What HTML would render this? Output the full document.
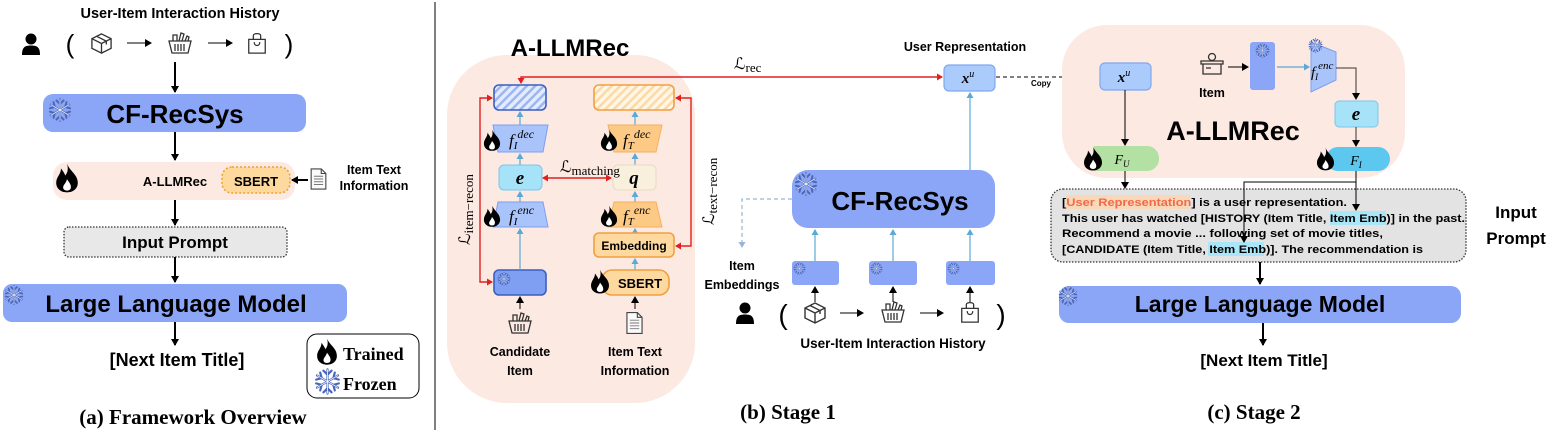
<!DOCTYPE html>
<html><head><meta charset="utf-8"><style>
html,body{margin:0;padding:0;background:#fff;}
svg{display:block;}
.s{font-family:"Liberation Sans",sans-serif;font-weight:bold;}
.m{font-family:"Liberation Serif",serif;}
</style></head><body>
<svg width="1554" height="433" viewBox="0 0 1554 433" xmlns="http://www.w3.org/2000/svg">
<defs>
<marker id="ak" markerWidth="8" markerHeight="8" refX="6" refY="4" orient="auto" markerUnits="userSpaceOnUse"><path d="M0,0 L7,4 L0,8 Z" fill="#000"/></marker>
<marker id="ab" markerWidth="7" markerHeight="7" refX="5" refY="3.5" orient="auto" markerUnits="userSpaceOnUse"><path d="M0,0 L6,3.5 L0,7 Z" fill="#5aa9d6"/></marker>
<marker id="ar" markerWidth="7" markerHeight="7" refX="5" refY="3.5" orient="auto" markerUnits="userSpaceOnUse"><path d="M0,0 L6,3.5 L0,7 Z" fill="#e02020"/></marker>
<marker id="ars" markerWidth="7" markerHeight="7" refX="1" refY="3.5" orient="auto" markerUnits="userSpaceOnUse"><path d="M6,0 L0,3.5 L6,7 Z" fill="#e02020"/></marker>
<marker id="ag" markerWidth="7" markerHeight="7" refX="5" refY="3.5" orient="auto" markerUnits="userSpaceOnUse"><path d="M0,0 L6,3.5 L0,7 Z" fill="#9ab4d8"/></marker>
<symbol id="fire" viewBox="0 0 20 24"><path d="M10 0 C12 6 19 9 19 16 C19 21 15 24 10 24 C5 24 1 21 1 16 C1 11 5 9 5 4 C7 7 8 8 8.5 10 C11 7 11 4 10 0 Z" fill="#000"/><path d="M10 13 C12 16 14 18 13 21 C12 23 8 23 7 21 C6 18 9 17 10 13 Z" fill="#fff"/></symbol>
<symbol id="snow" viewBox="-10 -10 20 20"><g stroke="#4a66b8" stroke-width="1.6" fill="none" stroke-linecap="round"><path d="M0-9V9M-7.8-4.5L7.8 4.5M-7.8 4.5L7.8-4.5"/><path d="M-3-8L0-5L3-8M-3 8L0 5L3 8M-8.4-1.4L-4.3-2.5L-5.4-6.6M8.4 1.4L4.3 2.5L5.4 6.6M-8.4 1.4L-4.3 2.5L-5.4 6.6M8.4-1.4L4.3-2.5L5.4-6.6"/></g><g stroke="#fff" stroke-width="0.6" fill="none"><path d="M0-9V9M-7.8-4.5L7.8 4.5M-7.8 4.5L7.8-4.5"/></g></symbol>
<symbol id="person" viewBox="0 0 20 22"><circle cx="10" cy="6" r="5.5" fill="#000"/><path d="M1 22 C1 14 4 12.5 10 12.5 C16 12.5 19 14 19 22 Z" fill="#000"/></symbol>
<symbol id="box" viewBox="0 0 24 24"><g fill="none" stroke="#333" stroke-width="1.4"><path d="M12 2 L22 7 L22 17 L12 22 L2 17 L2 7 Z"/><path d="M2 7 L12 12 L22 7 M12 12 V22 M7 4.5 L17 9.5 V13"/></g></symbol>
<symbol id="basket" viewBox="0 0 24 24"><g fill="none" stroke="#333" stroke-width="1.3"><path d="M1 10 H23 L20 22 H4 Z"/><path d="M7 13V20M10 13V20M13 13V20M16 13V20"/><path d="M5 10 V4 H9 V10 M11 10 L13 2 L16 3 L14 10 M17 10 L19 5 L21 6 L20 10"/></g></symbol>
<symbol id="bag" viewBox="0 0 24 24"><g fill="none" stroke="#333" stroke-width="1.4"><path d="M3 8 H21 V23 H3 Z"/><path d="M8 8 V4 C8 1 16 1 16 4 V8 M9 11 C9 16 15 16 15 11"/></g></symbol>
<symbol id="doc" viewBox="0 0 18 24"><g fill="#fafafa" stroke="#444" stroke-width="1.2"><path d="M1 1 H12 L17 6 V23 H1 Z"/><path d="M12 1 V6 H17" fill="none"/></g><g stroke="#777" stroke-width="1"><path d="M4 9H14M4 12H14M4 15H14M4 18H14"/></g></symbol>
<symbol id="itemic" viewBox="0 0 24 24"><g fill="none" stroke="#333" stroke-width="1.3"><path d="M3 12 H21 V22 H3 Z M1 9 H23 V12 H1 Z"/><circle cx="12" cy="5" r="3.5"/><path d="M6 16H11"/></g></symbol>
<pattern id="hb" width="6" height="6" patternUnits="userSpaceOnUse" patternTransform="rotate(45)"><rect width="6" height="6" fill="#e3ebff"/><rect width="2.5" height="6" fill="#9db5f0"/></pattern>
<pattern id="ho" width="6" height="6" patternUnits="userSpaceOnUse" patternTransform="rotate(45)"><rect width="6" height="6" fill="#fff6e6"/><rect width="2.5" height="6" fill="#fcd9a6"/></pattern>
</defs>

<!-- ============ PANEL A ============ -->
<text x="180" y="18" class="s" font-size="14.5" text-anchor="middle">User-Item Interaction History</text>
<use href="#person" x="20" y="33" width="22" height="22"/>
<text x="70" y="53" font-family="Liberation Sans" font-size="26" text-anchor="middle">(</text>
<text x="289" y="53" font-family="Liberation Sans" font-size="26" text-anchor="middle">)</text>
<use href="#box" x="90" y="32" width="23" height="23"/>
<use href="#basket" x="168" y="31" width="24" height="24"/>
<use href="#bag" x="246" y="31" width="22" height="24"/>
<line x1="127" y1="43" x2="151" y2="43" stroke="#000" stroke-width="1" marker-end="url(#ak)"/>
<line x1="208" y1="43" x2="232" y2="43" stroke="#000" stroke-width="1" marker-end="url(#ak)"/>
<line x1="175" y1="62" x2="175" y2="92" stroke="#000" stroke-width="2" marker-end="url(#ak)"/>
<rect x="43" y="94" width="263" height="38" rx="10" fill="#8ba6f7"/>
<use href="#snow" x="48" y="98" width="24" height="24"/>
<text x="175" y="123" class="s" font-size="26" text-anchor="middle">CF-RecSys</text>
<line x1="175" y1="132" x2="175" y2="160" stroke="#000" stroke-width="2" marker-end="url(#ak)"/>
<rect x="53" y="162" width="242" height="38" rx="14" fill="#fce9e2"/>
<use href="#fire" x="55" y="163" width="24" height="30"/>
<text x="175" y="186" class="s" font-size="13" text-anchor="middle">A-LLMRec</text>
<rect x="222" y="167" width="68" height="26" rx="10" fill="#fdd99d" stroke="#f0a030" stroke-width="1.5" stroke-dasharray="2,2"/>
<text x="256" y="186" class="s" font-size="13" text-anchor="middle">SBERT</text>
<line x1="308" y1="180" x2="292" y2="180" stroke="#000" stroke-width="2" marker-end="url(#ak)"/>
<use href="#doc" x="310" y="168" width="17" height="22"/>
<text x="374" y="174" class="s" font-size="12.5" text-anchor="middle">Item Text</text>
<text x="374" y="190" class="s" font-size="12.5" text-anchor="middle">Information</text>
<line x1="175" y1="200" x2="175" y2="225" stroke="#000" stroke-width="2" marker-end="url(#ak)"/>
<rect x="64" y="227" width="223" height="30" rx="5" fill="#e8e8e8" stroke="#333" stroke-width="1.3" stroke-dasharray="1.5,1.5"/>
<text x="175" y="248" class="s" font-size="17" text-anchor="middle">Input Prompt</text>
<line x1="175" y1="257" x2="175" y2="282" stroke="#000" stroke-width="2" marker-end="url(#ak)"/>
<rect x="3" y="284" width="344" height="38" rx="9" fill="#8ba6f7"/>
<use href="#snow" x="4" y="285" width="20" height="20"/>
<text x="176" y="312" class="s" font-size="24" text-anchor="middle">Large Language Model</text>
<line x1="175" y1="322" x2="175" y2="345" stroke="#000" stroke-width="2" marker-end="url(#ak)"/>
<text x="177" y="366" class="s" font-size="18" text-anchor="middle">[Next Item Title]</text>
<rect x="307" y="334" width="112" height="64" rx="10" fill="#fff" stroke="#000" stroke-width="1"/>
<use href="#fire" x="316" y="338" width="22" height="27"/>
<text x="343" y="360" class="m" font-size="18" font-weight="bold">Trained</text>
<use href="#snow" x="314" y="368" width="27" height="27"/>
<text x="343" y="390" class="m" font-size="18" font-weight="bold">Frozen</text>
<text x="193" y="424" class="m" font-size="21" font-weight="bold" text-anchor="middle">(a) Framework Overview</text>
<line x1="435" y1="2" x2="435" y2="430" stroke="#000" stroke-width="1"/>

<!-- ============ PANEL B ============ -->
<rect x="447" y="55" width="248" height="348" rx="60" fill="#fce9e2"/>
<text x="570" y="56" class="s" font-size="24" text-anchor="middle">A-LLMRec</text>
<rect x="494" y="85" width="52" height="25" rx="5" fill="url(#hb)" stroke="#3a5fc0" stroke-width="1.6"/>
<polygon points="493,125 548,125 543,152 498,152" fill="#a9c4fb" stroke="#7e9ef0" stroke-width="1"/>
<use href="#fire" x="483" y="128" width="18" height="24"/>
<text x="509" y="146" class="m" font-size="17" font-style="italic">f<tspan font-size="11" dy="3">I</tspan><tspan font-size="12" dy="-11">dec</tspan></text>
<rect x="499" y="165" width="43" height="25" rx="5" fill="#a6e3f8" stroke="#7cc6ea" stroke-width="1"/>
<text x="520" y="184" class="m" font-size="19" font-weight="bold" font-style="italic" text-anchor="middle">e</text>
<polygon points="498,202 543,202 548,227 493,227" fill="#a9c4fb" stroke="#7e9ef0" stroke-width="1"/>
<use href="#fire" x="483" y="204" width="18" height="24"/>
<text x="509" y="222" class="m" font-size="17" font-style="italic">f<tspan font-size="11" dy="3">I</tspan><tspan font-size="12" dy="-11">enc</tspan></text>
<rect x="494" y="270" width="52" height="25" rx="5" fill="#7f9ff2" stroke="#3a5fc0" stroke-width="1.6"/>
<use href="#snow" x="497" y="272" width="14" height="14"/>
<use href="#basket" x="508" y="311" width="24" height="24"/>
<text x="520" y="356" class="s" font-size="12.5" text-anchor="middle">Candidate</text>
<text x="520" y="375" class="s" font-size="12.5" text-anchor="middle">Item</text>
<line x1="520" y1="309" x2="520" y2="297" stroke="#000" stroke-width="1" marker-end="url(#ak)"/>
<g stroke="#5aa9d6" stroke-width="1.2">
<line x1="520" y1="270" x2="520" y2="229" marker-end="url(#ab)"/>
<line x1="520" y1="202" x2="520" y2="192" marker-end="url(#ab)"/>
<line x1="520" y1="165" x2="520" y2="154" marker-end="url(#ab)"/>
<line x1="520" y1="125" x2="520" y2="112" marker-end="url(#ab)"/>
<line x1="635" y1="270" x2="635" y2="259" marker-end="url(#ab)"/>
<line x1="635" y1="233" x2="635" y2="229" marker-end="url(#ab)"/>
<line x1="635" y1="202" x2="635" y2="192" marker-end="url(#ab)"/>
<line x1="635" y1="165" x2="635" y2="154" marker-end="url(#ab)"/>
<line x1="635" y1="125" x2="635" y2="112" marker-end="url(#ab)"/>
</g>
<rect x="594" y="85" width="80" height="25" rx="5" fill="url(#ho)" stroke="#f0a040" stroke-width="1.6"/>
<polygon points="608,125 662,125 656,152 614,152" fill="#fdca86" stroke="#f3b060" stroke-width="1"/>
<use href="#fire" x="600" y="128" width="18" height="24"/>
<text x="623" y="146" class="m" font-size="17" font-style="italic">f<tspan font-size="11" dy="3">T</tspan><tspan font-size="12" dy="-11">dec</tspan></text>
<rect x="613" y="165" width="43" height="25" rx="5" fill="#f8f0dd" stroke="#e8dcc0" stroke-width="1"/>
<text x="634" y="184" class="m" font-size="19" font-weight="bold" font-style="italic" text-anchor="middle">q</text>
<polygon points="614,202 656,202 662,227 608,227" fill="#fdca86" stroke="#f3b060" stroke-width="1"/>
<use href="#fire" x="600" y="204" width="18" height="24"/>
<text x="623" y="222" class="m" font-size="17" font-style="italic">f<tspan font-size="11" dy="3">T</tspan><tspan font-size="12" dy="-11">enc</tspan></text>
<rect x="594" y="233" width="80" height="24" rx="5" fill="#fdd9a0" stroke="#f0a040" stroke-width="1.6"/>
<text x="634" y="250" class="s" font-size="12" text-anchor="middle">Embedding</text>
<rect x="602" y="270" width="67" height="25" rx="10" fill="#fdd9a0" stroke="#f0a040" stroke-width="1.6"/>
<use href="#fire" x="590" y="268" width="20" height="27"/>
<text x="640" y="288" class="s" font-size="13" text-anchor="middle">SBERT</text>
<use href="#doc" x="626" y="311" width="17" height="24"/>
<line x1="635" y1="309" x2="635" y2="297" stroke="#000" stroke-width="1" marker-end="url(#ak)"/>
<text x="635" y="356" class="s" font-size="12.5" text-anchor="middle">Item Text</text>
<text x="635" y="375" class="s" font-size="12.5" text-anchor="middle">Information</text>
<g stroke="#e02020" stroke-width="1.4" fill="none">
<line x1="543" y1="178" x2="611" y2="178" marker-start="url(#ars)" marker-end="url(#ar)"/>
<polyline points="492,98 480,98 480,282 492,282" marker-start="url(#ars)" marker-end="url(#ar)"/>
<polyline points="676,98 691,98 691,246 676,246" marker-start="url(#ars)" marker-end="url(#ar)"/>
<polyline points="942,77 521,77 521,83" marker-start="url(#ars)" marker-end="url(#ar)"/>
</g>
<text x="560" y="172" class="m" font-size="16">ℒ<tspan font-size="13" dy="3">matching</tspan></text>
<text x="734" y="69" class="m" font-size="16">ℒ<tspan font-size="13" dy="3">rec</tspan></text>
<text transform="translate(470,245) rotate(-90)" class="m" font-size="16">ℒ<tspan font-size="13" dy="3">item−recon</tspan></text>
<text transform="translate(714,225) rotate(-90)" class="m" font-size="16">ℒ<tspan font-size="13" dy="3">text−recon</tspan></text>
<text x="965" y="51" class="s" font-size="12.5" text-anchor="middle">User Representation</text>
<rect x="944" y="65" width="51" height="26" rx="5" fill="#aacbfb" stroke="#80a8f0" stroke-width="1.2"/>
<text x="968" y="83" class="m" font-size="15" font-weight="bold" font-style="italic" text-anchor="middle">x<tspan font-size="10" dy="-6" font-weight="normal">u</tspan></text>
<line x1="970" y1="170" x2="970" y2="93" stroke="#5aa9d6" stroke-width="1.2" marker-end="url(#ab)"/>
<rect x="792" y="170" width="203" height="58" rx="16" fill="#8ba6f7"/>
<use href="#snow" x="794" y="172" width="24" height="24"/>
<text x="900" y="210" class="s" font-size="26" text-anchor="middle">CF-RecSys</text>
<polyline points="792,199 742,199 742,247" stroke="#9ab4d8" stroke-width="1.2" stroke-dasharray="4,3" fill="none" marker-end="url(#ag)"/>
<text x="742" y="270" class="s" font-size="12.5" text-anchor="middle">Item</text>
<text x="742" y="289" class="s" font-size="12.5" text-anchor="middle">Embeddings</text>
<g>
<rect x="792" y="261" width="47" height="24" rx="3" fill="#8ba6f7"/><use href="#snow" x="793" y="262" width="13" height="13"/>
<rect x="869" y="261" width="48" height="24" rx="3" fill="#8ba6f7"/><use href="#snow" x="870" y="262" width="13" height="13"/>
<rect x="946" y="261" width="49" height="24" rx="3" fill="#8ba6f7"/><use href="#snow" x="947" y="262" width="13" height="13"/>
</g>
<g stroke="#5aa9d6" stroke-width="1.2">
<line x1="815" y1="261" x2="815" y2="230" marker-end="url(#ab)"/>
<line x1="893" y1="261" x2="893" y2="230" marker-end="url(#ab)"/>
<line x1="970" y1="261" x2="970" y2="230" marker-end="url(#ab)"/>
</g>
<g stroke="#000" stroke-width="1">
<line x1="815" y1="302" x2="815" y2="287" marker-end="url(#ak)"/>
<line x1="893" y1="302" x2="893" y2="287" marker-end="url(#ak)"/>
<line x1="970" y1="302" x2="970" y2="287" marker-end="url(#ak)"/>
<line x1="840" y1="313" x2="863" y2="313" marker-end="url(#ak)"/>
<line x1="920" y1="313" x2="943" y2="313" marker-end="url(#ak)"/>
</g>
<use href="#person" x="734" y="302" width="22" height="22"/>
<text x="783" y="324" font-family="Liberation Sans" font-size="28" text-anchor="middle">(</text>
<text x="1001" y="324" font-family="Liberation Sans" font-size="28" text-anchor="middle">)</text>
<use href="#box" x="803" y="301" width="24" height="24"/>
<use href="#basket" x="881" y="300" width="24" height="24"/>
<use href="#bag" x="959" y="300" width="22" height="24"/>
<text x="893" y="348" class="s" font-size="13.5" text-anchor="middle">User-Item Interaction History</text>
<text x="788" y="419" class="m" font-size="21" font-weight="bold" text-anchor="middle">(b) Stage 1</text>
<line x1="996" y1="77" x2="1098" y2="77" stroke="#000" stroke-width="1" stroke-dasharray="4,3" marker-end="url(#ak)"/>
<text x="1041" y="86" class="s" font-size="8" text-anchor="middle">Copy</text>

<!-- ============ PANEL C ============ -->
<rect x="1062" y="25" width="343" height="153" rx="45" fill="#fce9e2"/>
<rect x="1100" y="63" width="51" height="27" rx="5" fill="#aacbfb" stroke="#80a8f0" stroke-width="1.2"/>
<text x="1124" y="82" class="m" font-size="15" font-weight="bold" font-style="italic" text-anchor="middle">x<tspan font-size="10" dy="-6" font-weight="normal">u</tspan></text>
<line x1="1125" y1="90" x2="1125" y2="145" stroke="#000" stroke-width="1" marker-end="url(#ak)"/>
<path d="M1094 146 H1147 A12 12 0 0 1 1159 158 A12 12 0 0 1 1147 171 H1094 Z" fill="#b3e1a3"/>
<use href="#fire" x="1083" y="145" width="20" height="27"/>
<text x="1122" y="164" class="m" font-size="14" font-style="italic" text-anchor="middle">F<tspan font-size="9" dy="3">U</tspan></text>
<use href="#itemic" x="1200" y="52" width="24" height="24"/>
<text x="1212" y="97" class="s" font-size="12.5" text-anchor="middle">Item</text>
<line x1="1228" y1="67" x2="1248" y2="67" stroke="#000" stroke-width="1" marker-end="url(#ak)"/>
<rect x="1250" y="42" width="25" height="48" rx="3" fill="#8ba6f7"/>
<use href="#snow" x="1255" y="43" width="15" height="15"/>
<line x1="1277" y1="67" x2="1309" y2="67" stroke="#5aa9d6" stroke-width="1.2" marker-end="url(#ab)"/>
<polygon points="1311,42 1336,52 1336,80 1311,92" fill="#a9c4fb" stroke="#7e9ef0" stroke-width="1"/>
<use href="#snow" x="1308" y="38" width="15" height="15"/>
<text x="1311" y="77" class="m" font-size="15" font-style="italic">f<tspan font-size="9" dy="3">I</tspan><tspan font-size="11" dy="-11">enc</tspan></text>
<polyline points="1336,68 1356,68 1356,99" stroke="#333" stroke-width="1" fill="none" marker-end="url(#ak)"/>
<rect x="1335" y="101" width="43" height="26" rx="4" fill="#a6e3f8" stroke="#7cc6ea" stroke-width="1"/>
<text x="1356" y="120" class="m" font-size="19" font-weight="bold" font-style="italic" text-anchor="middle">e</text>
<line x1="1356" y1="127" x2="1356" y2="146" stroke="#333" stroke-width="1" marker-end="url(#ak)"/>
<text x="1233" y="140" class="s" font-size="27" text-anchor="middle">A-LLMRec</text>
<path d="M1338 147 H1378 A12 12 0 0 1 1390 159 A12 12 0 0 1 1378 171 H1338 A12 12 0 0 1 1326 159 A12 12 0 0 1 1338 147 Z" fill="#5cc8ef"/>
<use href="#fire" x="1316" y="146" width="19" height="26"/>
<text x="1356" y="165" class="m" font-size="14" font-style="italic" text-anchor="middle">F<tspan font-size="9" dy="3">I</tspan></text>
<rect x="1051" y="189" width="415" height="73" rx="12" fill="#e3e3e3" stroke="#333" stroke-width="1.3" stroke-dasharray="1.5,1.5"/>
<line x1="1125" y1="171" x2="1125" y2="188" stroke="#000" stroke-width="1" marker-end="url(#ak)"/>
<rect x="1066" y="195" width="124" height="14" fill="#f8d8b8"/>
<rect x="1330" y="211" width="56" height="14" fill="#a8e6f8"/>
<rect x="1208" y="242" width="56" height="14" fill="#a8e6f8"/>
<g class="s" font-size="11">
<text x="1062" y="206" textLength="285" lengthAdjust="spacingAndGlyphs">[<tspan fill="#f26a4a">User Representation</tspan>] is a user representation.</text>
<text x="1062" y="222" textLength="403" lengthAdjust="spacingAndGlyphs">This user has watched [HISTORY (Item Title, Item Emb)] in the past.</text>
<text x="1062" y="237" textLength="321" lengthAdjust="spacingAndGlyphs">Recommend a movie ... following set of movie titles,</text>
<text x="1062" y="253" textLength="361" lengthAdjust="spacingAndGlyphs">[CANDIDATE (Item Title, Item Emb)]. The recommendation is</text>
</g>
<line x1="1356" y1="171" x2="1356" y2="210" stroke="#000" stroke-width="1" marker-end="url(#ak)"/>
<polyline points="1356,182 1244,182 1244,242" stroke="#000" stroke-width="1" fill="none" marker-end="url(#ak)"/>
<text x="1516" y="218" class="s" font-size="17" text-anchor="middle">Input</text>
<text x="1516" y="244" class="s" font-size="17" text-anchor="middle">Prompt</text>
<line x1="1260" y1="262" x2="1260" y2="284" stroke="#000" stroke-width="2" marker-end="url(#ak)"/>
<rect x="1059" y="286" width="402" height="37" rx="10" fill="#8ba6f7"/>
<use href="#snow" x="1058" y="286" width="20" height="20"/>
<text x="1260" y="312" class="s" font-size="23" text-anchor="middle">Large Language Model</text>
<line x1="1263" y1="323" x2="1263" y2="345" stroke="#000" stroke-width="2" marker-end="url(#ak)"/>
<text x="1264" y="366" class="s" font-size="17" text-anchor="middle">[Next Item Title]</text>
<text x="1254" y="419" class="m" font-size="21" font-weight="bold" text-anchor="middle">(c) Stage 2</text>
</svg>
</body></html>
